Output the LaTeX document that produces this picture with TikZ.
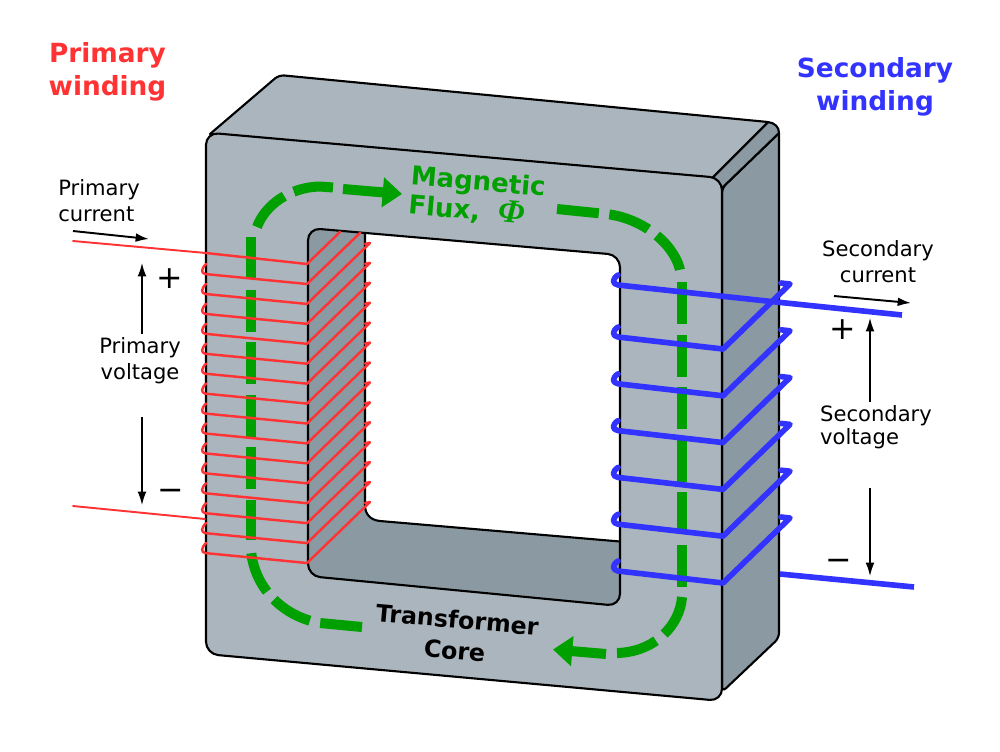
\documentclass[tikz,border=0pt]{standalone}
\usepackage{fontspec}
\setmainfont{DejaVu Sans}
\newfontfamily\phifont{Liberation Serif}
\usetikzlibrary{arrows.meta}
\definecolor{coreface}{HTML}{ABB5BD}
\definecolor{coreside}{HTML}{8A99A2}
\definecolor{fluxgreen}{HTML}{00A000}
\definecolor{primred}{HTML}{FF3333}
\definecolor{secblue}{HTML}{3333FF}
\tikzset{>={Latex[length=7.6pt,width=5pt]}}
\tikzset{
  coreline/.style={draw=black, line width=1.2pt, line join=round},
  primwire/.style={draw=primred, line width=1.4pt, line join=round, line cap=round},
  secwire/.style={draw=secblue, line width=3.2pt, line join=round, line cap=round},
  fluxline/.style={draw=fluxgreen, line width=5.7pt, dash pattern=on 0.84cm off 0.212cm},
  fluxarrow/.style={draw=fluxgreen, line width=5.7pt, -{Triangle[length=11pt,width=16.5pt]}},
  bigtitle/.style={font=\bfseries\fontsize{15}{18.8}\selectfont, align=center},
  fluxtext/.style={font=\bfseries\fontsize{14.8}{15.4}\selectfont, rotate=-5},
  smalltext/.style={font=\fontsize{12}{14.8}\selectfont},
  signtext/.style={font=\fontsize{18}{20}\selectfont},
  voltarrow/.style={->, line width=0.8pt},
  currarrow/.style={->, line width=1.1pt},
}
\begin{document}
\begin{tikzpicture}[x=0.02cm, y=-0.02cm]
  \useasboundingbox (0,0) rectangle (1000,751);

  % --- 1. The Core ---
  % Side face and the small bevel at the back corner
  \path[coreline, fill=coreside] (722,188) -- (779,133) -- (779,630)
    [rounded corners=3pt] -- (779,638) -- (722,692) -- cycle;
  \path[coreline, fill=coreside] (712,178) -- (768,122)
    .. controls (775,123) and (779,127) .. (779,133) -- (722,188) -- cycle;
  % Top face
  \path[coreline, fill=coreface] (210,134) [rounded corners=3pt] -- (279,75)
    [sharp corners] -- (768,122) -- (712,178) -- cycle;
  % Front face
  \path[coreline, fill=coreface, rounded corners=7pt] (206,132.5) -- (722,178)
    -- (722,701) -- (206,654) -- cycle;

  % --- 2. The Window ---
  \path[fill=coreside, rounded corners=7pt] (308,228) -- (620,255)
    -- (620,606) -- (308,576) -- cycle;
  \fill[white] (365,233) -- (608,254) .. controls (616,255) and (620,260) .. (620,268)
    -- (620,541.5) -- (380,521) .. controls (370,520) and (365,514) .. (365,505) -- cycle;
  \draw[coreline] (365,233) -- (365,505) .. controls (365,514) and (370,520) .. (380,521) -- (620,541.5);
  \path[coreline, rounded corners=7pt] (308,228) -- (620,255)
    -- (620,606) -- (308,576) -- cycle;

  % --- 3. Magnetic Flux ---
  % Dashed runs, broken where the labels sit
  \draw[fluxline] (557,209) -- (606,214) .. controls (643,218) and (677,245) .. (681,275);
  \draw[fluxline] (682,282) -- (682,587);
  \draw[fluxline] (682,597) .. controls (680,625) and (655,652) .. (617,653);
  \draw[fluxarrow] (606,654) -- (553,649.5);
  \draw[fluxline] (362,627) -- (320,623) .. controls (285,617) and (255,590) .. (251,551);
  \draw[fluxline] (251,237) -- (251,540);
  \draw[fluxline] (257,227) .. controls (265,205) and (290,187) .. (320,186.5) -- (333,187.5);
  \draw[fluxarrow] (343,189) -- (402,194);

  % --- 4. Primary Winding ---
  \draw[primwire, line width=1.1pt] (73,241) -- (206,253);
  \draw[primwire] (206,253) -- (307,264) -- (340,232);
  \draw[primwire] (206,264) .. controls (201,269) and (201,273) .. (205,274) -- (307,284) -- (360,233);
  \foreach \y in {1,...,14} {
    \pgfmathsetmacro{\ya}{264+19.93*\y}
    \draw[primwire] (206,\ya) .. controls (201,\ya+5) and (201,\ya+9) .. (205,\ya+10)
      -- (307,\ya+20) -- (370,\ya-41) -- (365,\ya-40);
  }
  \draw[primwire, line width=1.1pt] (73,506) -- (205,519);

  % --- 5. Secondary Winding ---
  \draw[secwire] (618,275) .. controls (612,279) and (612,284) .. (618,285) -- (776,302);
  \draw[secblue, line width=3.2pt] (776,302) -- (902,315);
  \foreach \y in {0,...,5} {
    \pgfmathsetmacro{\ya}{337+46.8*\y}
    \draw[secwire] (618,\ya-10) .. controls (612,\ya-6) and (612,\ya-1) .. (618,\ya)
      -- (723,\ya+12) -- (790,\ya-53) -- (781,\ya-54);
  }
  \draw[secblue, line width=3.2pt] (780,574) -- (914,587);

  % --- 6. Arrows ---
  \coordinate (pc1) at (73,231);   \coordinate (pc2) at (149,239);
  \coordinate (pv1) at (142,334);  \coordinate (pv2) at (142,263);
  \coordinate (pv3) at (142,417);  \coordinate (pv4) at (142,505);
  \coordinate (sc1) at (834,296);  \coordinate (sc2) at (911,303);
  \coordinate (sv1) at (870,402);  \coordinate (sv2) at (870,318);
  \coordinate (sv3) at (870,488);  \coordinate (sv4) at (870,576);
  \draw[currarrow] (pc1) -- (pc2);
  \draw[voltarrow] (pv1) -- (pv2);
  \draw[voltarrow] (pv3) -- (pv4);
  \draw[currarrow] (sc1) -- (sc2);
  \draw[voltarrow] (sv1) -- (sv2);
  \draw[voltarrow] (sv3) -- (sv4);

  % --- 7. Labels ---
  \node[bigtitle, text=primred] (primtitle) at (107.5,72) {Primary\\winding};
  \node[bigtitle, text=secblue] (sectitle) at (875,87) {Secondary\\winding};
  \node[fluxtext, text=fluxgreen, align=left] (fluxlabel) at (477,197) {Magnetic\\Flux,\ \ {\phifont\itshape\fontsize{19}{15.4}\selectfont Φ}};
  \node[fluxtext, align=center, font=\bfseries\fontsize{13.5}{17.6}\selectfont] (corelabel) at (456,635) {Transformer\\Core};
  \node[smalltext, align=left] (pcurrent) at (99,201) {Primary\\current};
  \node[smalltext, align=center] (pvoltage) at (140,361) {Primary\\voltage};
  \node[smalltext, align=center] (scurrent) at (878,262) {Secondary\\current};
  \node[smalltext, align=left, font=\fontsize{12}{13.2}\selectfont] (svoltage) at (876,427) {Secondary\\voltage};
  \node[signtext] (pplus) at (170,279) {+};
  \node[signtext] (pminus) at (171,495) {−};
  \node[signtext] (splus) at (843,330) {+};
  \node[signtext] (sminus) at (839,565) {−};
\end{tikzpicture}
\end{document}
